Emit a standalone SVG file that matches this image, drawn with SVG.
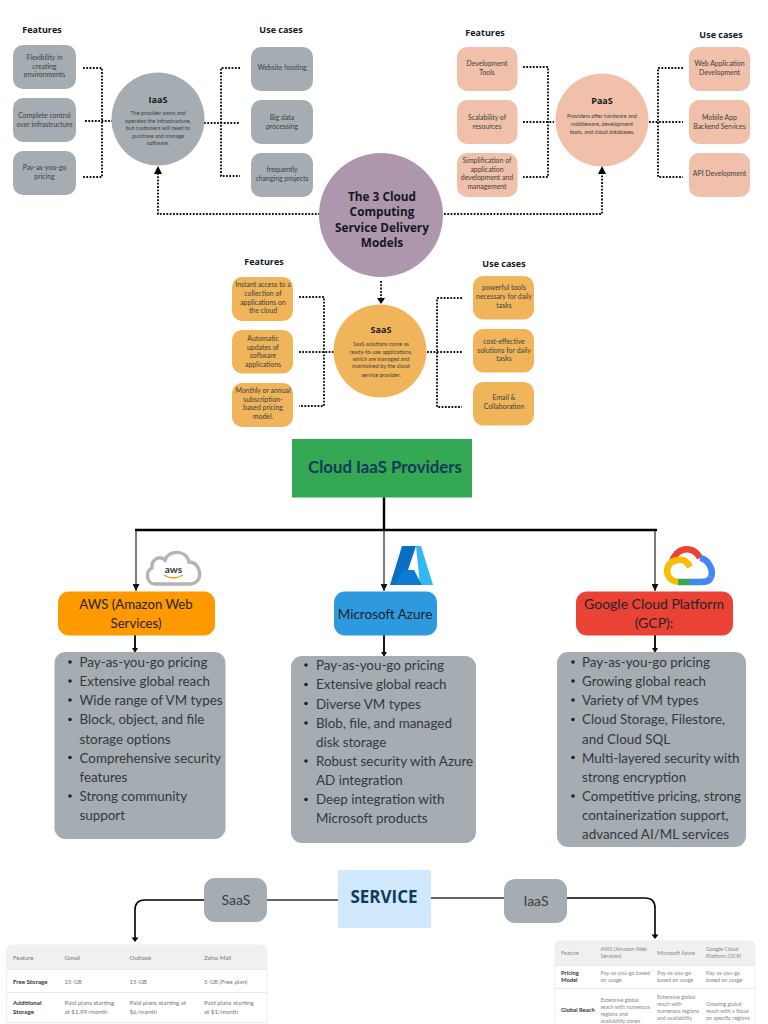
<svg xmlns="http://www.w3.org/2000/svg" width="768" height="1024" viewBox="0 0 768 1024">
<style>
text{font-family:"Lato","Liberation Sans",sans-serif;fill:#3c4043}
.m{text-anchor:middle}
.h{font-family:"Open Sans","Liberation Sans",sans-serif;font-weight:700;fill:#14181c;text-anchor:middle}
.hl{font-size:9px}
.mt{font-size:11.800px}
.t{font-size:6.900px;text-anchor:middle}
.d{font-size:5.500px;text-anchor:middle}
.g{fill:#a5adb2}.p{fill:#f0c0aa}.o{fill:#f0b55a}
.dot{fill:none;stroke:#111;stroke-width:1.900;stroke-dasharray:1.800 1.500}
.thick{fill:none;stroke:#000;stroke-width:2.400}
.thin{fill:none;stroke:#111;stroke-width:1.100}
.b{font-size:13.400px;fill:#33383c}
.pr{font-size:13.500px;fill:#1f2225;text-anchor:middle}
.bul{fill:#1f2225}
.c{font-size:6.200px;fill:#777}
.cb{font-size:6.200px;fill:#333;font-weight:700}
.e{font-size:5.400px;fill:#888}
.eb{font-size:5.800px;fill:#333;font-weight:700}
.tb{fill:#fff;stroke:#e6e6e6;stroke-width:.7}
.th{fill:#f0f0f0}
.rl{stroke:#e4e4e4;stroke-width:.8}
</style>
<defs>
<marker id="ah" markerUnits="userSpaceOnUse" markerWidth="7" markerHeight="7" refX="7" refY="3.500" orient="auto"><path d="M0 0 7 3.500 0 7Z" fill="#111"/></marker>
</defs>
<rect width="768" height="1024" fill="#fff"/>

<g id="connectors">
<path class="dot" d="M83 68H102V177H83M85 121H112M204 123H240M240 68H221V176H240"/>
<path class="dot" d="M523 67H548V177H523M523 122H554M649 122H683M683 68H658V177H683"/>
<path class="dot" d="M299 297H324V406H299M299 352H334M427 352H462M462 298H437V407H462"/>
<path class="dot" d="M320 214H158V172"/>
<path class="dot" d="M444 214H602V172"/>
<path class="dot" d="M381 281V299"/>
<path d="M154 174 158 166 162 174Z" fill="#000"/>
<path d="M598 174 602 166 606 174Z" fill="#000"/>
<path d="M377 298 381 304 385 298Z" fill="#000"/>
<path class="thick" d="M384 497V530M135 530H657"/>
<path class="thin" d="M136 530V591" marker-end="url(#ah)"/>
<path class="thin" d="M384 530V591" marker-end="url(#ah)"/>
<path class="thin" d="M655 530V591" marker-end="url(#ah)"/>
<path class="thick" style="stroke-width:1.800" d="M135 635V651M384 635V655M655 635V651"/>
<path d="M132 648 135 653 138 648ZM381 652 384 657 387 652ZM652 648 655 653 658 648Z" fill="#111"/>
<path class="thick" style="stroke-width:1.400;stroke:#333" d="M267 900H338M431 898H504"/>
<path class="thick" style="stroke-width:1.600" d="M204 900H145Q135 900 135 910V939"/>
<path class="thick" style="stroke-width:1.600" d="M567 898H645Q655 898 655 908V936"/>
<path d="M131.500 937.500H138.500L135 942ZM651.500 934.500H658.500L655 939Z" fill="#000"/>
</g>

<g id="iaas">
<text class="h hl" x="42" y="33">Features</text>
<text class="h hl" x="281" y="33">Use cases</text>
<circle class="g" cx="158" cy="119" r="46.500"/>
<text class="h" font-size="9" x="158" y="103">IaaS</text>
<text class="d" x="158" y="115">The provider owns and</text>
<text class="d" x="158" y="122.500">operates the infrastructure,</text>
<text class="d" x="158" y="130">but customers will need to</text>
<text class="d" x="158" y="138">purchase and manage</text>
<text class="d" x="158" y="145">software.</text>
</g>
<g id="iaas-f1"><rect class="g" x="13" y="45" width="63" height="44" rx="10"/><text class="t" x="44.500" y="60">Flexibility in</text><text class="t" x="44.500" y="69">creating</text><text class="t" x="44.500" y="77">environments</text></g>
<g id="iaas-f2"><rect class="g" x="13" y="98" width="63" height="44" rx="10"/><text class="t" x="44.500" y="118">Complete control</text><text class="t" x="44.500" y="127">over infrastructure</text></g>
<g id="iaas-f3"><rect class="g" x="13" y="151" width="63" height="44" rx="10"/><text class="t" x="44.500" y="170">Pay-as-you-go</text><text class="t" x="44.500" y="179">pricing</text></g>
<g id="iaas-u1"><rect class="g" x="251" y="47" width="62" height="44" rx="10"/><text class="t" x="282" y="70">Website hosting</text></g>
<g id="iaas-u2"><rect class="g" x="251" y="100" width="62" height="44" rx="10"/><text class="t" x="282" y="120">Big data</text><text class="t" x="282" y="128.500">processing</text></g>
<g id="iaas-u3"><rect class="g" x="251" y="153" width="62" height="44" rx="10"/><text class="t" x="282" y="172">frequently</text><text class="t" x="282" y="180.500">changing projects</text></g>

<g id="paas">
<text class="h hl" x="485" y="36">Features</text>
<text class="h hl" x="721" y="38">Use cases</text>
<circle class="p" cx="602" cy="120" r="46.500"/>
<text class="h" font-size="9" x="602" y="104">PaaS</text>
<text class="d" x="602" y="118">Providers offer hardware and</text>
<text class="d" x="602" y="126">middleware, development</text>
<text class="d" x="602" y="133.500">tools, and cloud databases.</text>
</g>
<g id="paas-f1"><rect class="p" x="457" y="47" width="60.500" height="44" rx="10"/><text class="t" x="487" y="66">Development</text><text class="t" x="487" y="75">Tools</text></g>
<g id="paas-f2"><rect class="p" x="457" y="100" width="60.500" height="44" rx="10"/><text class="t" x="487" y="120">Scalability of</text><text class="t" x="487" y="128.500">resources</text></g>
<g id="paas-f3"><rect class="p" x="457" y="153" width="60.500" height="44" rx="10"/><text class="t" x="487" y="163">Simplification of</text><text class="t" x="487" y="172">application</text><text class="t" x="487" y="180">development and</text><text class="t" x="487" y="189">management</text></g>
<g id="paas-u1"><rect class="p" x="689" y="47" width="61" height="44" rx="10"/><text class="t" x="719.500" y="66">Web Application</text><text class="t" x="719.500" y="75">Development</text></g>
<g id="paas-u2"><rect class="p" x="689" y="100" width="61" height="44" rx="10"/><text class="t" x="719.500" y="120">Mobile App</text><text class="t" x="719.500" y="129">Backend Services</text></g>
<g id="paas-u3"><rect class="p" x="689" y="153" width="61" height="44" rx="10"/><text class="t" x="719.500" y="176">API Development</text></g>

<g id="main">
<circle cx="381" cy="215" r="62" fill="#ae97ad"/>
<text class="h mt" x="382" y="201">The 3 Cloud</text>
<text class="h mt" x="382" y="216">Computing</text>
<text class="h mt" x="382" y="232">Service Delivery</text>
<text class="h mt" x="382" y="247">Models</text>
</g>

<g id="saas">
<text class="h hl" x="264" y="265">Features</text>
<text class="h hl" x="504" y="267">Use cases</text>
<circle class="o" cx="380" cy="351" r="46.500"/>
<text class="h" font-size="9" x="381" y="333">SaaS</text>
<text class="d" x="381" y="346">SaaS solutions  come as</text>
<text class="d" x="381" y="353.500">ready-to-use applications,</text>
<text class="d" x="381" y="361">which are managed and</text>
<text class="d" x="381" y="368">maintained by the cloud</text>
<text class="d" x="381" y="377">service provider.</text>
</g>
<g id="saas-f1"><rect class="o" x="232" y="277" width="61" height="44" rx="10"/><text class="t" x="263" y="287">Instant access to a</text><text class="t" x="263" y="296">collection of</text><text class="t" x="263" y="304.500">applications on</text><text class="t" x="263" y="313">the cloud</text></g>
<g id="saas-f2"><rect class="o" x="232" y="330" width="61" height="43.500" rx="10"/><text class="t" x="263" y="341">Automatic</text><text class="t" x="263" y="349.500">updates of</text><text class="t" x="263" y="358">software</text><text class="t" x="263" y="367">applications</text></g>
<g id="saas-f3"><rect class="o" x="232" y="383" width="61" height="44" rx="10"/><text class="t" x="263" y="393">Monthly or annual</text><text class="t" x="263" y="401.500">subscription-</text><text class="t" x="263" y="410">based pricing</text><text class="t" x="263" y="419">model.</text></g>
<g id="saas-u1"><rect class="o" x="473" y="276" width="61" height="43.500" rx="10"/><text class="t" x="504" y="290">powerful tools</text><text class="t" x="504" y="299">necessary for daily</text><text class="t" x="504" y="308">tasks</text></g>
<g id="saas-u2"><rect class="o" x="473" y="329" width="61" height="43.500" rx="10"/><text class="t" x="504" y="344">cost-effective</text><text class="t" x="504" y="353">solutions for daily</text><text class="t" x="504" y="361">tasks</text></g>
<g id="saas-u3"><rect class="o" x="473" y="382" width="61" height="43.500" rx="10"/><text class="t" x="504" y="400">Email &amp;</text><text class="t" x="504" y="409">Collaboration</text></g>

<g id="providers"><rect x="292" y="439" width="180" height="58.500" fill="#34a853"/><text x="385" y="473" class="m" font-size="16.800" font-weight="700" style="fill:#123a5a">Cloud IaaS Providers</text></g>

<g id="aws"><rect x="58" y="591.500" width="157" height="44" rx="11" fill="#ff9900"/><text class="pr" x="136" y="609" style="font-size:13.200px">AWS (Amazon Web</text><text class="pr" x="136" y="628" style="font-size:13.200px">Services)</text></g>
<g id="azure"><rect x="334" y="591.500" width="103" height="44" rx="11" fill="#2d9ae0"/><text class="pr" x="385" y="619">Microsoft Azure</text></g>
<g id="gcp"><rect x="576" y="591.500" width="157" height="44" rx="11" fill="#ea4335"/><text class="pr" x="654" y="609" style="font-size:14px">Google Cloud Platform</text><text class="pr" x="654" y="628" style="font-size:14px">(GCP):</text></g>

<g id="logo-aws">
<path d="M155 584C146 584 145 571 152 568C151 559 160 555 165 560C169 550 186 549 189 562C202 562 204 584 190 584Z" fill="#fff" stroke="#b4b4b4" stroke-width="3.400"/>
<text x="173.500" y="573" class="m" font-size="10" font-weight="700" style="fill:#333">aws</text>
<path d="M164 575Q173 581 183 575" fill="none" stroke="#f90" stroke-width="1.300"/>
</g>
<g id="logo-azure">
<path d="M402 546H416L403 585H390Z" fill="#0a6ec4"/>
<path d="M416 546H421L433 585H420Z" fill="#34b8f0"/>
<path d="M404 570H414L422 585H394Z" fill="#0f7ad1"/>
</g>
<g id="logo-gcp" fill="none" stroke-width="6.500">
<path d="M672 562C675 549 692 543 700 558" stroke="#ea4335"/>
<path d="M700 558C708 559 714 570 711 577" stroke="#4285f4"/>
<path d="M711 577C709 582 705 582 700 582H690" stroke="#4285f4"/>
<path d="M690 582H678" stroke="#34a853"/>
<path d="M678 582C663 580 664 561 678 560C684 559 688 563 690 567" stroke="#fbbc04"/>
</g>

<g id="aws-list"><rect class="g" x="54.500" y="652" width="171" height="187" rx="11"/>
<circle class="bul" cx="70" cy="662" r="1.800"/><text class="b" x="79.500" y="667">Pay-as-you-go pricing</text>
<circle class="bul" cx="70" cy="681" r="1.800"/><text class="b" x="79.500" y="686">Extensive global reach</text>
<circle class="bul" cx="70" cy="700" r="1.800"/><text class="b" x="79.500" y="705">Wide range of VM types</text>
<circle class="bul" cx="70" cy="719.500" r="1.800"/><text class="b" x="79.500" y="724">Block, object, and file</text>
<text class="b" x="79.500" y="743.500">storage options</text>
<circle class="bul" cx="70" cy="757.500" r="1.800"/><text class="b" x="79.500" y="762.500">Comprehensive security</text>
<text class="b" x="79.500" y="782">features</text>
<circle class="bul" cx="70" cy="796" r="1.800"/><text class="b" x="79.500" y="801">Strong community</text>
<text class="b" x="79.500" y="820">support</text></g>

<g id="azure-list"><rect class="g" x="291" y="656" width="185" height="187" rx="11"/>
<circle class="bul" cx="306" cy="665" r="1.800"/><text class="b" x="316" y="670">Pay-as-you-go pricing</text>
<circle class="bul" cx="306" cy="684.500" r="1.800"/><text class="b" x="316" y="689">Extensive global reach</text>
<circle class="bul" cx="306" cy="703.500" r="1.800"/><text class="b" x="316" y="708.500">Diverse VM types</text>
<circle class="bul" cx="306" cy="723" r="1.800"/><text class="b" x="316" y="727.500">Blob, file, and managed</text>
<text class="b" x="316" y="746.500">disk storage</text>
<circle class="bul" cx="306" cy="761" r="1.800"/><text class="b" x="316" y="765.500">Robust security with Azure</text>
<text class="b" x="316" y="785">AD integration</text>
<circle class="bul" cx="306" cy="799.500" r="1.800"/><text class="b" x="316" y="804">Deep integration with</text>
<text class="b" x="316" y="823">Microsoft products</text></g>

<g id="gcp-list"><rect class="g" x="557" y="652" width="189" height="195" rx="11"/>
<circle class="bul" cx="573" cy="662" r="1.800"/><text class="b" x="582" y="667">Pay-as-you-go pricing</text>
<circle class="bul" cx="573" cy="681" r="1.800"/><text class="b" x="582" y="686">Growing global reach</text>
<circle class="bul" cx="573" cy="700" r="1.800"/><text class="b" x="582" y="705">Variety of VM types</text>
<circle class="bul" cx="573" cy="719.500" r="1.800"/><text class="b" x="582" y="724">Cloud Storage, Filestore,</text>
<text class="b" x="582" y="743.500">and Cloud SQL</text>
<circle class="bul" cx="573" cy="757.500" r="1.800"/><text class="b" x="582" y="762.500">Multi-layered security with</text>
<text class="b" x="582" y="782">strong encryption</text>
<circle class="bul" cx="573" cy="796" r="1.800"/><text class="b" x="582" y="801">Competitive pricing, strong</text>
<text class="b" x="582" y="820">containerization support,</text>
<text class="b" x="582" y="839">advanced AI/ML services</text></g>

<g id="service"><rect x="338" y="870" width="93" height="58" fill="#cfe8fb"/><text x="384" y="903" class="m" font-size="17" font-weight="700" style="fill:#123a5a;font-family:'Open Sans',sans-serif">SERVICE</text></g>
<g id="saas-tag"><rect class="g" x="204" y="878" width="63" height="44" rx="11"/><text x="236" y="905" class="m" font-size="14" style="fill:#3c4043">SaaS</text></g>
<g id="iaas-tag"><rect class="g" x="504" y="879" width="63" height="44" rx="11"/><text x="536" y="906" class="m" font-size="14" style="fill:#3c4043">IaaS</text></g>

<g id="saas-table">
<path class="tb" d="M6.500 1024V952Q6.500 945 13 945H260Q267 945 267 952V1024"/>
<path class="th" d="M6.500 969.500V952Q6.500 945 13 945H260Q267 945 267 952V969.500Z"/>
<path class="rl" d="M6.500 969.500H267M6.500 992.500H267M6.500 1022.500H267"/>
<text class="c" x="13" y="960">Feature</text><text class="c" x="64.500" y="960">Gmail</text><text class="c" x="129.500" y="960">Outlook</text><text class="c" x="204" y="960">Zoho Mail</text>
<text class="cb" x="13" y="983.500">Free Storage</text><text class="c" x="64.500" y="983.500">15 GB</text><text class="c" x="129.500" y="983.500">15 GB</text><text class="c" x="204" y="983.500">5 GB (Free plan)</text>
<text class="cb" x="13" y="1005">Additional</text><text class="cb" x="13" y="1014">Storage</text>
<text class="c" x="64.500" y="1005">Paid plans starting</text><text class="c" x="64.500" y="1014">at $1.99/month</text>
<text class="c" x="129.500" y="1005">Paid plans starting at</text><text class="c" x="129.500" y="1014">$6/month</text>
<text class="c" x="204" y="1005">Paid plans starting</text><text class="c" x="204" y="1014">at $1/month</text>
</g>

<g id="iaas-table">
<path class="tb" d="M555 1024V947Q555 941 561 941H749Q755 941 755 947V1024"/>
<path class="th" d="M555 965.500V947Q555 941 561 941H749Q755 941 755 947V965.500Z"/>
<path class="rl" d="M555 965.500H755M555 988.500H755"/>
<text class="e" x="561" y="955">Feature</text>
<text class="e" x="600.500" y="951">AWS (Amazon Web</text><text class="e" x="600.500" y="958">Services)</text>
<text class="e" x="657" y="955">Microsoft Azure</text>
<text class="e" x="706" y="951">Google Cloud</text><text class="e" x="706" y="958">Platform (GCP)</text>
<text class="eb" x="561" y="975">Pricing</text><text class="eb" x="561" y="982">Model</text>
<text class="e" x="600.500" y="975">Pay-as-you-go based</text><text class="e" x="600.500" y="982">on usage</text>
<text class="e" x="657" y="975">Pay-as-you-go</text><text class="e" x="657" y="982">based on usage</text>
<text class="e" x="706" y="975">Pay-as-you-go</text><text class="e" x="706" y="982">based on usage</text>
<text class="eb" x="561" y="1012">Global Reach</text>
<text class="e" x="600.500" y="1002">Extensive global</text><text class="e" x="600.500" y="1009">reach with numerous</text><text class="e" x="600.500" y="1016">regions and</text><text class="e" x="600.500" y="1023">availability zones</text>
<text class="e" x="657" y="999">Extensive global</text><text class="e" x="657" y="1006">reach with</text><text class="e" x="657" y="1013">numerous regions</text><text class="e" x="657" y="1020">and availability</text>
<text class="e" x="706" y="1006">Growing global</text><text class="e" x="706" y="1013">reach with a focus</text><text class="e" x="706" y="1020">on specific regions</text>
</g>
</svg>
